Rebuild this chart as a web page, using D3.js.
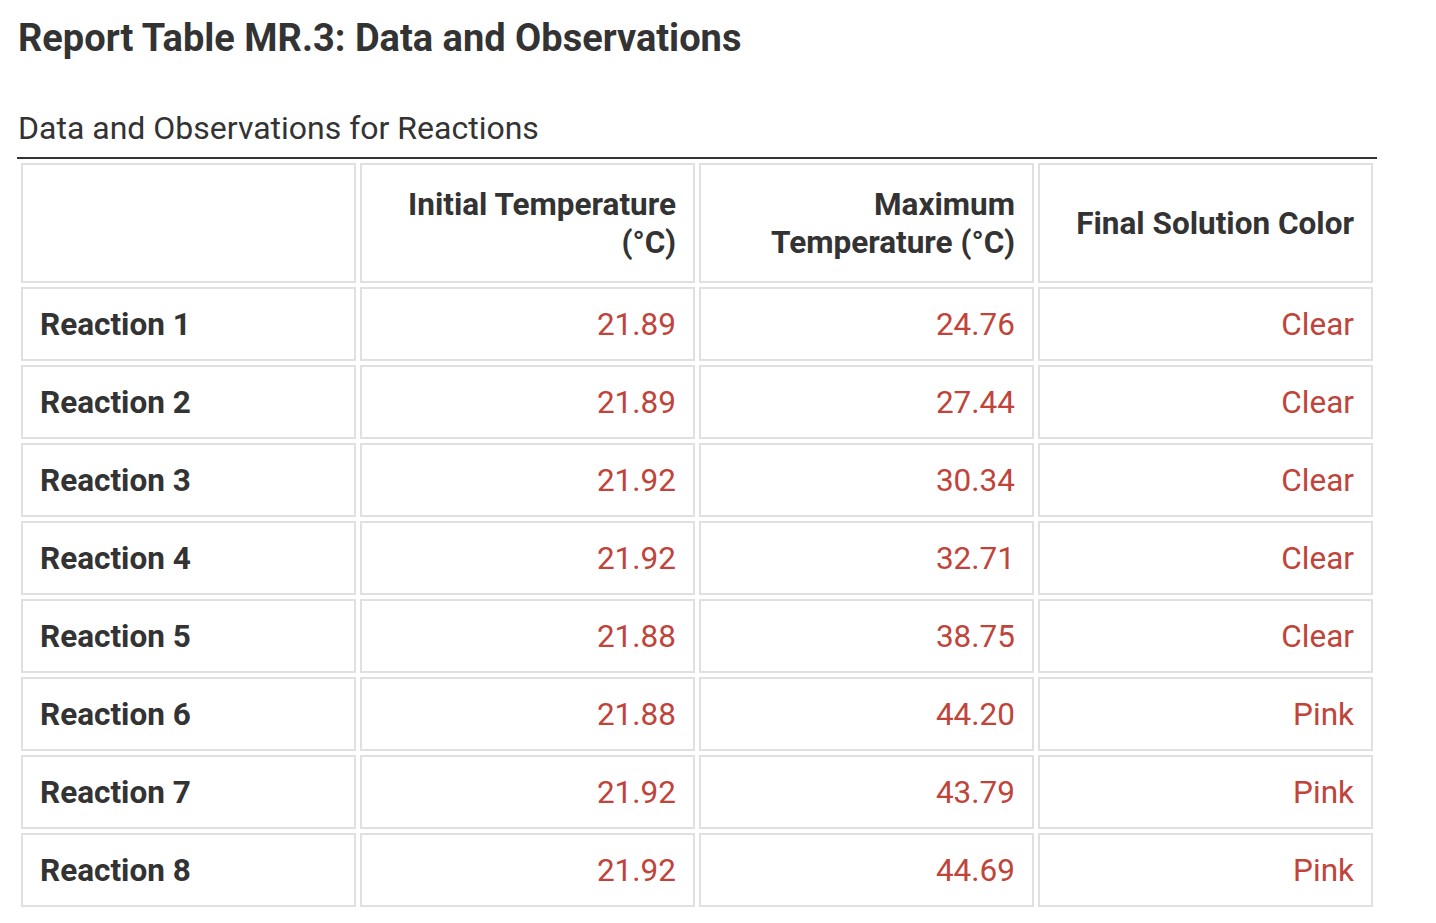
<!DOCTYPE html>
<html><head><meta charset="utf-8">
<script src="https://cdn.jsdelivr.net/npm/d3@7"></script>
<style>body{margin:0;background:#fff;font-family:Roboto,sans-serif;}</style>
</head><body><svg id="c" width="1436" height="923"></svg>
<script>
const title = "Report Table MR.3: Data and Observations";
const subtitle = "Data and Observations for Reactions";
const headers = [[""], ["Initial Temperature", "(°C)"], ["Maximum", "Temperature (°C)"], ["Final Solution Color"]];
const reactions = ["Reaction 1","Reaction 2","Reaction 3","Reaction 4","Reaction 5","Reaction 6","Reaction 7","Reaction 8"];
const initialTemp = ["21.89","21.89","21.92","21.92","21.88","21.88","21.92","21.92"];
const maxTemp = ["24.76","27.44","30.34","32.71","38.75","44.20","43.79","44.69"];
const finalColor = ["Clear","Clear","Clear","Clear","Clear","Pink","Pink","Pink"];

const svg = d3.select("#c");
const dark = "#333", red = "#c0443a", border = "#e0e0e0";
svg.append("text").attr("x",18).attr("y",51).attr("font-size",38).attr("font-weight",700).attr("fill",dark).text(title);
svg.append("text").attr("x",18).attr("y",139).attr("font-size",32).attr("fill",dark).text(subtitle);
svg.append("line").attr("x1",17).attr("x2",1377).attr("y1",158).attr("y2",158).attr("stroke",dark).attr("stroke-width",2);

const x = d3.scaleBand().domain(d3.range(4)).range([19,1375]).paddingInner(0);
const rowY = d3.scaleBand().domain(d3.range(8)).range([285,909]).paddingInner(0.077).paddingOuter(0.038);
const pad = 18, fs = 31.5;
headers.forEach((h,i)=>{
  svg.append("rect").attr("x",x(i)+3).attr("y",164).attr("width",x.bandwidth()-6).attr("height",118)
    .attr("fill","none").attr("stroke",border).attr("stroke-width",2);
  const t = svg.append("text").attr("text-anchor","end").attr("x",x(i)+x.bandwidth()-3-pad)
    .attr("font-size",fs).attr("font-weight",700).attr("fill",dark);
  const y0 = h.length===2 ? 215 : 234;
  h.forEach((ln,j)=>t.append("tspan").attr("x",x(i)+x.bandwidth()-3-pad).attr("y",y0+j*38).text(ln));
});
reactions.forEach((r,k)=>{
  const y = rowY(k), hgt = rowY.bandwidth();
  const vals = [r, initialTemp[k], maxTemp[k], finalColor[k]];
  vals.forEach((v,i)=>{
    svg.append("rect").attr("x",x(i)+3).attr("y",y).attr("width",x.bandwidth()-6).attr("height",hgt)
      .attr("fill","none").attr("stroke",border).attr("stroke-width",2);
    const t = svg.append("text").attr("y",y+hgt/2+11).attr("font-size",fs).text(v);
    if(i===0) t.attr("x",x(i)+3+pad).attr("font-weight",700).attr("fill",dark);
    else t.attr("x",x(i)+x.bandwidth()-3-pad).attr("text-anchor","end").attr("fill",red);
  });
});
</script></body></html>
